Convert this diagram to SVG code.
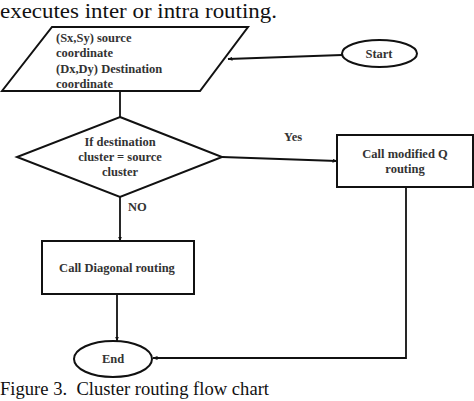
<svg xmlns="http://www.w3.org/2000/svg" width="474" height="401" viewBox="0 0 474 401">
<style>
.s{fill:#fff;stroke:#111;stroke-width:2}
.t{font-family:"Liberation Serif","Times New Roman",serif;font-weight:bold;font-size:12.5px;fill:#333}
.c{text-anchor:middle}
.l{fill:none;stroke:#111;stroke-width:1.8}
.cap{font-family:"Liberation Serif","Times New Roman",serif;fill:#111}
</style>
<defs>
<marker id="a" viewBox="0 0 10 10" refX="9" refY="5" markerWidth="5" markerHeight="5" orient="auto" markerUnits="userSpaceOnUse">
<path d="M0,1 L10,5 L0,9 z" fill="#111"/>
</marker>
</defs>
<rect width="474" height="401" fill="#fff"/>
<text class="cap" x="0" y="18" font-size="21" textLength="277" lengthAdjust="spacingAndGlyphs">executes inter or intra routing.</text>
<text class="cap" x="0" y="395" font-size="18" textLength="269" lengthAdjust="spacingAndGlyphs">Figure 3.&#160; Cluster routing flow chart</text>
<g id="connectors">
<line class="l" x1="342" y1="55" x2="228" y2="59" marker-end="url(#a)"/>
<line class="l" x1="120" y1="91" x2="120" y2="117"/>
<line class="l" x1="222" y1="157" x2="337" y2="161" marker-end="url(#a)"/>
<line class="l" x1="120" y1="197" x2="120" y2="241" marker-end="url(#a)"/>
<line class="l" x1="117" y1="294" x2="117" y2="341" marker-end="url(#a)"/>
<polyline class="l" points="406,187 406,358 153,358" marker-end="url(#a)"/>
<text class="t" x="284" y="141" font-size="9">Yes</text>
<text class="t" x="128" y="211" font-size="11">NO</text>
</g>
<g id="input">
<polygon class="s" points="52,27 248,27 200,91 2,91"/>
<text class="t" x="56" y="42">(Sx,Sy) source</text>
<text class="t" x="56" y="57">coordinate</text>
<text class="t" x="56" y="73">(Dx,Dy) Destination</text>
<text class="t" x="56" y="88">coordinate</text>
</g>
<g id="start">
<ellipse class="s" cx="379.5" cy="53.5" rx="37.5" ry="13.5"/>
<text class="t c" x="379" y="58">Start</text>
</g>
<g id="decision">
<polygon class="s" points="120,117 222,157 120,197 17,157"/>
<text class="t c" x="120" y="146">If  destination</text>
<text class="t c" x="120" y="161">cluster = source</text>
<text class="t c" x="120" y="176">cluster</text>
</g>
<g id="qrouting">
<rect class="s" x="337" y="135" width="136" height="52"/>
<text class="t c" x="405" y="158">Call modified Q</text>
<text class="t c" x="405" y="173">routing</text>
</g>
<g id="diagonal">
<rect class="s" x="42" y="241" width="152" height="53"/>
<text class="t c" x="117" y="272">Call Diagonal routing</text>
</g>
<g id="end">
<ellipse class="s" cx="113" cy="359" rx="39" ry="18"/>
<text class="t c" x="113" y="363" font-size="10">End</text>
</g>
</svg>
